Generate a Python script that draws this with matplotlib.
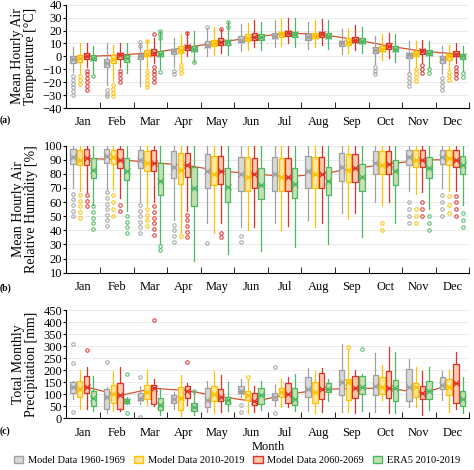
import numpy as np
import matplotlib; matplotlib.use('Agg')
import matplotlib.pyplot as plt
from matplotlib.patches import Patch

plt.rcParams['font.family'] = ['Liberation Serif', 'DejaVu Serif']

months = ['Jan', 'Feb', 'Mar', 'Apr', 'May', 'Jun', 'Jul', 'Aug', 'Sep', 'Oct', 'Nov', 'Dec']
series = ['Model Data 1960-1969', 'Model Data 2010-2019', 'Model Data 2060-2069', 'ERA5 2010-2019']

# ---- (a) temperature: [gray, yellow, red, green]
t_med = [[-2, -5, 0, 4, 9, 13, 16, 15, 10, 5, 1, -2],
         [-1, -2, 2, 5, 10, 14, 17, 16, 11, 6, 2, 0],
         [0, 1, 3, 7, 11, 15, 18, 17, 13, 8, 4, 2],
         [-1, -1, 2, 6, 11, 15, 17, 16, 12, 6, 3, 0]]
t_q1 = [[-5, -8, -2, 2, 7, 11, 14, 13, 8, 3, -1, -5],
        [-4, -5, 0, 3, 8, 12, 15, 14, 9, 4, 0, -3],
        [-2, -2, 1, 5, 9, 13, 16, 15, 11, 6, 2, 0],
        [-3, -4, 0, 4, 9, 13, 15, 14, 10, 4, 1, -2]]
t_q3 = [[0, -2, 2, 6, 12, 16, 18, 17, 12, 7, 3, 0],
        [1, 1, 5, 8, 13, 17, 19, 18, 14, 8, 4, 2],
        [3, 3, 6, 9, 14, 18, 20, 19, 15, 10, 6, 4],
        [1, 1, 4, 8, 13, 17, 19, 18, 14, 8, 5, 2]]
t_lo = [[-12, -22, -23, -8, 0, 4, 7, 6, 2, -6, -12, -14],
        [-13, -19, -10, -5, 1, 5, 8, 7, 3, -3, -8, -10],
        [-8, -8, -5, 0, 3, 7, 10, 9, 5, -1, -4, -5],
        [-13, -13, -10, -4, 1, 5, 7, 6, 3, -4, -8, -11]]
t_hi = [[7, 10, 10, 14, 22, 25, 28, 27, 21, 16, 12, 8],
        [10, 9, 13, 17, 23, 26, 29, 28, 22, 17, 12, 9],
        [10, 10, 14, 19, 21, 28, 30, 29, 24, 18, 13, 10],
        [8, 10, 20, 20, 27, 27, 30, 28, 23, 17, 12, 8]]
t_fl = [{0: [-15, -18, -21, -24, -27, -30], 1: [-26, -29, -31], 2: [11, 8], 3: [-11, -14], 4: [23],
         9: [-8, -11, -14], 10: [-14, -17, -20, -23], 11: [-17, -20, -23, -26]},
        {0: [-15, -18, -21], 1: [-22, -25, -28, -31], 2: [-12, -15, -18, -21, -24, 12], 3: [-7, -10, -13],
         10: [-10, -13, -16, -19], 11: [-12, -15, -18]},
        {0: [-11, -14, -17, -20, -23, -26], 1: [-11, -14, -17, -20], 2: [-8, -11, -14, -17, -20, 17],
         3: [18], 4: [21], 10: [-7, -10, -13], 11: [-8, -11, -14, -17]},
        {0: [-15], 2: [-12, 14, 17, 20], 3: [-4], 4: [23, 27], 10: [-10, -13], 11: [-13, -16]}]

# ---- (b) relative humidity
h_med = [[92, 93, 90, 85, 82, 80, 80, 82, 85, 88, 92, 92],
         [90, 92, 88, 83, 80, 78, 78, 80, 83, 86, 90, 91],
         [91, 90, 88, 86, 82, 80, 78, 80, 84, 87, 90, 90],
         [83, 82, 75, 70, 71, 72, 73, 75, 78, 82, 84, 86]]
h_q1 = [[87, 88, 84, 77, 70, 68, 68, 70, 75, 80, 86, 87],
        [86, 87, 82, 73, 72, 68, 68, 70, 74, 80, 85, 86],
        [86, 84, 82, 78, 73, 70, 68, 70, 74, 80, 85, 85],
        [77, 76, 65, 57, 60, 62, 63, 65, 68, 72, 77, 80]]
h_q3 = [[98, 98, 97, 96, 94, 92, 92, 93, 95, 96, 97, 97],
        [97, 97, 96, 95, 93, 92, 91, 92, 94, 96, 97, 97],
        [98, 98, 97, 95, 93, 91, 91, 92, 94, 96, 97, 97],
        [91, 91, 88, 85, 84, 84, 84, 85, 87, 90, 92, 93]]
h_lo = [[70, 69, 60, 47, 45, 42, 45, 47, 52, 60, 68, 70],
        [68, 69, 58, 38, 38, 40, 40, 42, 48, 58, 66, 68],
        [67, 63, 60, 54, 45, 42, 43, 45, 52, 60, 67, 68],
        [58, 54, 30, 18, 23, 25, 28, 30, 35, 45, 55, 58]]
h_hi = [[100] * 12, [100] * 12, [100] * 12, [100] * 12]
h_fl = [{0: [50, 54, 58, 62, 66], 1: [43, 47, 51, 55, 59, 63, 67], 2: [38, 42, 46, 50, 54, 58],
         3: [32, 36, 40, 44], 4: [31], 5: [32, 36], 10: [45, 50, 55, 60], 11: [50, 55, 60, 65]},
        {0: [49, 53, 57, 61, 65], 1: [50, 55, 60, 65], 2: [43, 47, 51, 55], 3: [36], 9: [40, 45],
         10: [45, 50, 55], 11: [52, 58, 64]},
        {0: [57, 61, 65], 1: [54, 58], 2: [37, 41, 45, 49, 53, 57], 3: [35, 39, 43, 47, 51],
         4: [35, 38], 10: [50, 55, 60], 11: [50, 55, 60, 64]},
        {0: [41, 45, 49, 53, 57], 1: [38, 42, 46, 50], 2: [26, 29], 10: [40, 45, 50], 11: [42, 47, 52]}]

# ---- (c) precipitation
p_med = [[130, 90, 85, 80, 75, 115, 90, 120, 150, 135, 130, 140],
         [120, 100, 110, 85, 100, 95, 110, 110, 150, 130, 130, 130],
         [130, 95, 125, 115, 90, 70, 100, 120, 125, 125, 105, 145],
         [85, 70, 55, 45, 75, 95, 80, 120, 130, 125, 115, 80]]
p_q1 = [[105, 40, 75, 65, 45, 105, 75, 90, 95, 95, 70, 120],
        [90, 65, 80, 35, 70, 75, 90, 65, 75, 100, 90, 95],
        [105, 40, 60, 85, 70, 55, 65, 80, 85, 85, 80, 65],
        [50, 65, 35, 30, 60, 60, 55, 110, 100, 70, 80, 50]]
p_q3 = [[150, 120, 105, 95, 125, 135, 105, 170, 200, 180, 205, 170],
        [155, 140, 140, 130, 135, 115, 125, 150, 165, 170, 145, 165],
        [175, 145, 140, 135, 120, 105, 145, 190, 175, 195, 135, 225],
        [115, 80, 85, 65, 90, 125, 125, 145, 175, 160, 155, 115]]
p_lo = [[80, 20, 60, 40, 25, 90, 50, 30, 25, 25, 45, 75],
        [40, 30, 55, 10, 20, 20, 45, 20, 25, 75, 45, 25],
        [40, 30, 50, 55, 25, 25, 45, 25, 20, 20, 15, 40],
        [30, 60, 15, 15, 30, 35, 30, 70, 30, 20, 35, 20]]
p_hi = [[155, 130, 135, 110, 155, 165, 140, 210, 310, 270, 245, 195],
        [200, 195, 200, 180, 195, 165, 165, 195, 290, 220, 215, 200],
        [215, 215, 165, 145, 180, 135, 170, 210, 200, 295, 195, 275],
        [175, 90, 125, 115, 150, 155, 185, 165, 185, 275, 215, 170]]
p_fl = [{0: [310, 230, 25], 1: [235], 2: [170, 5], 5: [55, 25], 6: [215, 20]},
        {5: [170], 8: [295]},
        {0: [285], 2: [410], 3: [235]},
        {1: [185, 20], 3: [115], 8: [290]}]

faces = ['#d9d9d9', '#ffe699', '#f8cbad', '#c6e0b4']
edges = ['#a0a0a0', '#ffc000', '#e0302a', '#4cb860']
offsets = [-0.3, -0.1, 0.1, 0.3]


def draw(ax, med, q1, q3, lo, hi, fl, ylim, yticks, ylabel, tag):
    for s in range(4):
        stats = []
        for m in range(12):
            stats.append(dict(med=med[s][m], q1=q1[s][m], q3=q3[s][m], whislo=lo[s][m],
                              whishi=hi[s][m], mean=med[s][m], fliers=fl[s].get(m, [])))
        pos = np.arange(12) + offsets[s]
        ax.bxp(stats, positions=pos, widths=0.16, patch_artist=True, showmeans=True,
               boxprops=dict(facecolor=faces[s], edgecolor=edges[s], lw=0.9),
               medianprops=dict(color=edges[s], lw=0.9),
               whiskerprops=dict(color=edges[s], lw=0.9),
               capprops=dict(color=edges[s], lw=0),
               flierprops=dict(marker='o', mfc='none', mec=edges[s], ms=2.5, mew=0.7),
               meanprops=dict(marker='x', mec=edges[s], ms=5, mew=0.9), manage_ticks=False)
    ax.plot(np.arange(12) + offsets[2], med[2], color='#d9502e', lw=0.9, zorder=1)
    ax.set_xlim(-0.5, 11.5)
    ax.set_ylim(*ylim)
    ax.set_yticks(yticks)
    ax.set_xticks(np.arange(12))
    ax.set_xticklabels(months, fontsize=9)
    ax.set_xticks(np.arange(12) + 0.5, minor=True)
    ax.tick_params(axis='x', which='major', length=0, pad=6)
    ax.tick_params(axis='x', which='minor', length=4, direction='in')
    ax.tick_params(axis='y', labelsize=9, length=2, pad=1)
    ax.grid(axis='y', color='#e6e6e6', lw=0.6)
    ax.set_axisbelow(True)
    for sp in ['top', 'right']:
        ax.spines[sp].set_visible(False)
    ax.set_ylabel(ylabel, fontsize=10, linespacing=1.0)
    ax.text(-0.165, -0.14, tag, transform=ax.transAxes, fontsize=7, fontweight='bold')


fig = plt.figure(figsize=(4.74, 4.70), dpi=100)
ax1 = fig.add_axes([0.14, 0.77, 0.85, 0.22])
ax2 = fig.add_axes([0.14, 0.42, 0.85, 0.27])
ax3 = fig.add_axes([0.14, 0.11, 0.85, 0.23])
draw(ax1, t_med, t_q1, t_q3, t_lo, t_hi, t_fl, (-40, 40), range(-40, 41, 10),
     'Mean Hourly Air\nTemperature [°C]', '(a)')
draw(ax2, h_med, h_q1, h_q3, h_lo, h_hi, h_fl, (10, 100), range(10, 101, 10),
     'Mean Hourly Air\nRelative Humidity [%]', '(b)')
draw(ax3, p_med, p_q1, p_q3, p_lo, p_hi, p_fl, (0, 450), range(0, 451, 50),
     'Total Monthly\nPrecipitation [mm]', '(c)')
ax3.set_xlabel('Month', fontsize=9, labelpad=2)

handles = [Patch(facecolor=faces[i], edgecolor=edges[i], label=series[i]) for i in range(4)]
fig.legend(handles=handles, loc='lower center', bbox_to_anchor=(0.5, -0.01), ncol=4, frameon=False,
           fontsize=7.5, handlelength=0.9, handletextpad=0.4, columnspacing=0.9)
fig.savefig('out.png', dpi=100)
